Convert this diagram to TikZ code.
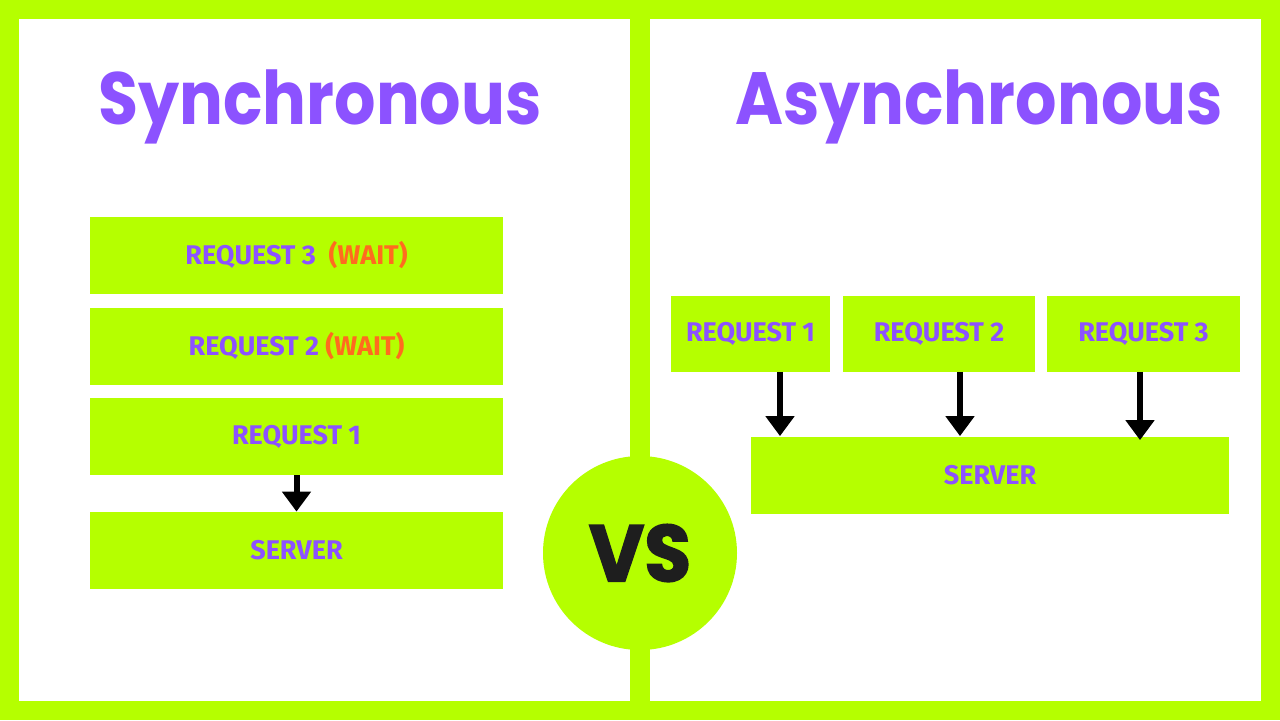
\documentclass[tikz,border=0pt]{standalone}
\usepackage{xcolor}
\usepackage{fontspec}
\setmainfont{Fira Sans}
\newfontfamily\titlefont{Poppins}[FakeStretch=0.88]
\newfontfamily\vsfont{Poppins}[BoldFeatures={FakeBold=2}, FakeStretch=0.95]
\usepackage{tikz}
\usetikzlibrary{arrows.meta,positioning,calc}

\definecolor{vsgreen}{HTML}{B5FF00}
\definecolor{vspurple}{HTML}{8C52FF}
\definecolor{vsorange}{HTML}{FF6B1F}
\definecolor{vsblack}{HTML}{1E1E1E}

\begin{document}
\begin{tikzpicture}[x=0.5pt, y=-0.5pt,
    title/.style={anchor=base, inner sep=0pt, text=vspurple, font=\titlefont\bfseries\fontsize{37}{42}\selectfont},
    reqbox/.style={rectangle, fill=vsgreen, inner sep=0pt, minimum width=206.5pt, minimum height=38.5pt, text=vspurple, font=\bfseries\fontsize{13.5}{15}\selectfont},
    smallbox/.style={reqbox, minimum height=38pt},
    vscircle/.style={circle, fill=vsgreen, inner sep=0pt, minimum size=97pt, text=vsblack, font=\vsfont\bfseries\fontsize{40}{44}\selectfont},
    arrow/.style={-{Triangle[width=14pt, length=10pt]}, line width=3pt, black}]

% Background and the two white panels
\fill[vsgreen] (0,0) rectangle (1280,720);
\useasboundingbox (0,0) rectangle (1280,720);
\fill[white] (19,19) rectangle (630,701);
\fill[white] (650,19) rectangle (1261,701);

% Titles
\node[title] (synctitle) at (320,124) {Synchronous};
\node[title] (asynctitle) at (979,124) {Asynchronous};

% Left side: requests stacked on top of each other
\node[reqbox] (req3l) at (296.5,255.5) {REQUEST 3\ \ \textcolor{vsorange}{(WAIT)}};
\node[reqbox] (req2l) at (296.5,346) {REQUEST 2 \textcolor{vsorange}{(WAIT)}};
\node[reqbox] (req1l) at (296.5,436.5) {REQUEST 1};
\node[reqbox] (serverl) at (296.5,550.5) {SERVER};

\draw[arrow] (req1l.south) -- (serverl.north);

% Right side: requests side by side
\node[smallbox, minimum width=79.5pt] (req1r) at (750.5,333.5) {REQUEST 1};
\node[smallbox, minimum width=96pt] (req2r) at (939,333.5) {REQUEST 2};
\node[smallbox, minimum width=96.5pt] (req3r) at (1143.5,333.5) {REQUEST 3};
\node[reqbox, minimum width=239pt] (serverr) at (990,475) {SERVER};

\draw[arrow] ($(req1r.south)+(29.5,0)$) -- ($(req1r.south |- serverr.north)+(29.5,0)$);
\draw[arrow] ($(req2r.south)+(21,0)$) -- ($(req2r.south |- serverr.north)+(21,0)$);
\draw[arrow, shorten >=-2pt] ($(req3r.south)+(-3.5,0)$) -- ($(req3r.south |- serverr.north)+(-3.5,0)$);

% VS badge in the middle
\node[vscircle] (vs) at (640,553) {VS};

\end{tikzpicture}
\end{document}
